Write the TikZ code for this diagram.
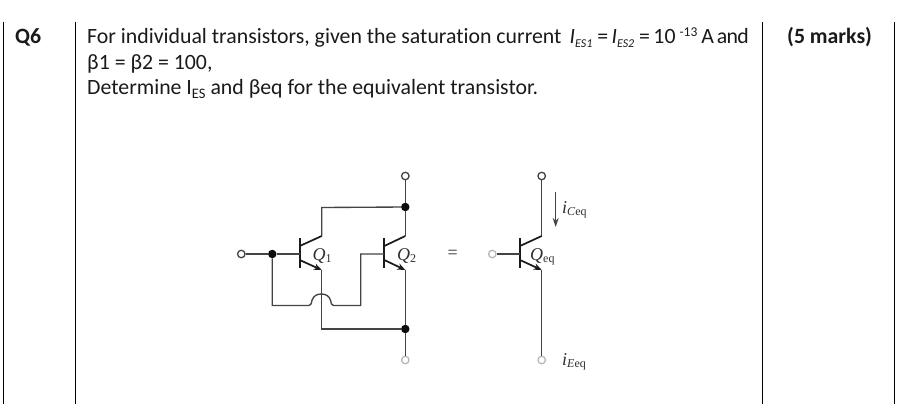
\documentclass[tikz,border=0pt]{standalone}
\usepackage{fontspec}
\setmainfont[Ligatures=NoCommon]{Carlito}
\newfontfamily\labf{Liberation Serif}
\usetikzlibrary{arrows.meta}
\definecolor{wirec}{HTML}{444444}
\definecolor{inkc}{HTML}{1A1A1A}
\tikzset{
  wire/.style={draw=wirec,line width=1.35pt},
  thickwire/.style={draw=inkc,line width=1.7pt},
  bar/.style={draw=inkc,line width=2.3pt},
  rule/.style={draw=black,line width=0.9pt},
  opencirc/.style={circle,draw=wirec,fill=white,line width=1.3pt,minimum size=7.5pt,inner sep=0pt},
  fadecirc/.style={circle,draw=wirec!40!white,fill=white,line width=1.2pt,minimum size=7.5pt,inner sep=0pt},
  dotc/.style={circle,fill=black!95!white,minimum size=8.5pt,inner sep=0pt},
  body/.style={anchor=base west,inner sep=0pt,text=inkc,font=\fontsize{21.8}{24}\selectfont},
  bodyb/.style={body,font=\fontsize{21.8}{24}\selectfont\bfseries},
  lab/.style={anchor=base west,inner sep=0pt,text=black!82!white,font=\labf\itshape\fontsize{18}{20}\selectfont},
  emit/.style={thickwire,-{Stealth[length=8pt,width=6.5pt]}},
}
\newcommand{\subsc}[1]{\raisebox{-0.32ex}{\fontsize{14.5}{16}\selectfont #1}}
\newcommand{\isub}[1]{\raisebox{-0.32ex}{\fontsize{12}{14}\selectfont\itshape #1}}
\newcommand{\lsub}[1]{\raisebox{-0.3ex}{\fontsize{12}{14}\selectfont #1}}
\begin{document}
\begin{tikzpicture}[x=1pt,y=-1pt]
\useasboundingbox[fill=white] (0,0) rectangle (911,404);
% table rules
\coordinate (r1t) at (3.7,22); \coordinate (r1b) at (3.7,404);
\coordinate (r2t) at (75.8,22); \coordinate (r2b) at (75.8,404);
\coordinate (r3t) at (762.5,22); \coordinate (r3b) at (762.5,404);
\coordinate (r4t) at (894.5,22); \coordinate (r4b) at (894.5,404);
\draw[rule] (r1t)--(r1b);
\draw[rule] (r2t)--(r2b);
\draw[rule] (r3t)--(r3b);
\draw[rule] (r4t)--(r4b);
% texts
\node[bodyb] (q6) at (15,44) {Q6};
\node[body] (l1) at (87,44) {For individual transistors, given the saturation current\hspace{8pt}\textit{I}\isub{ES1} = \hspace{-1.5pt}\textit{I}\isub{ES2} = \hspace{-1.5pt}10 \hspace{-1pt}\raisebox{0.75ex}{\fontsize{13.5}{14}\selectfont -13}\hspace{-1pt} A\hspace{-1pt} \hspace{-1pt}a\hspace{-0.7pt}n\hspace{-0.7pt}d};
\node[body] (l2) at (87,70) {β1 = β2 = 100,};
\node[body] (l3) at (87,95) {Determine I\subsc{ES} and βeq for the equivalent transistor.};
\node[bodyb] (marks) at (787,44) {(5 marks)};
% left circuit
\node[opencirc] (top) at (405.3,176) {};
\node[dotc] (jt) at (405.3,207) {};
\node[dotc] (jb) at (405.3,329) {};
\node[fadecirc] (bot) at (405.3,360) {};
\node[opencirc] (in) at (241.3,254) {};
\node[dotc] (jin) at (272.3,254) {};
\coordinate (b1) at (299.7,254);
\coordinate (c1top) at (321.7,207.5);
\coordinate (c1) at (321.7,236);
\coordinate (e1) at (321.7,270);
\coordinate (e1b) at (321.7,329);
\coordinate (c1s) at (299.7,246);
\coordinate (e1s) at (299.7,260);
\coordinate (b2) at (384.3,254);
\coordinate (c2) at (405.3,236);
\coordinate (e2) at (405.3,270);
\coordinate (c2s) at (384.3,246);
\coordinate (e2s) at (384.3,260);
\coordinate (b2c) at (360.7,254);
\coordinate (b2d) at (360.7,305.5);
\coordinate (hr) at (333.5,305.5);
\coordinate (hl) at (309,305.5);
\coordinate (hp) at (321.3,294);
\coordinate (jd) at (272.3,305.5);
% bars
\draw[bar] (299.7,238)--(299.7,268);
\draw[bar] (384.3,238)--(384.3,268);
\draw[wire] (jt)--(top);
\draw[wire] (jt)--(c2);
\draw[wire] (e2)--(jb);
\draw[wire] (jb)--(bot);
\draw[wire] (jt)--(c1top)--(c1);
\draw[wire] (e1)--(e1b)--(jb);
\draw[wire] (in)--(jin);
\draw[wire] (jin)--(b1);
\draw[thickwire] (c1s)--(c1);
\draw[emit] (e1s)--(e1);
\draw[thickwire] (c2s)--(c2);
\draw[emit] (e2s)--(e2);
\draw[wire] (b2)--(b2c)--(b2d)--(hr) .. controls (331,305.5) and (331.5,303) .. (330.5,300) .. controls (329,296) and (326,294) .. (hp) .. controls (316.6,294) and (313.6,296) .. (312.1,300) .. controls (311.1,303) and (311.5,305.5) .. (hl)--(jd)--(jin);
\node[lab] (q1) at (312.5,260) {Q\lsub{\textup{1}}};
\node[lab] (q2) at (397,260) {Q\lsub{\textup{2}}};
% equals
\node[lab,anchor=center,font=\labf\fontsize{18}{20}\selectfont] (eq) at (452.7,254) {=};
% right circuit
\node[opencirc] (top2) at (541.7,176) {};
\node[fadecirc] (bot2) at (541.7,360) {};
\node[fadecirc] (in2) at (492.3,254) {};
\coordinate (b3) at (520,254);
\coordinate (c3) at (541.7,236);
\coordinate (e3) at (541.7,270);
\coordinate (c3s) at (520,246);
\coordinate (e3s) at (520,260);
\draw[bar] (520,238)--(520,268);
\draw[wire] (top2)--(c3);
\draw[wire] (e3)--(bot2);
\draw[wire] (in2)--(b3);
\draw[thickwire] (c3s)--(c3);
\draw[emit] (e3s)--(e3);
\coordinate (ia) at (555.7,192);
\coordinate (ib) at (555.7,227);
\draw[wire,-{Stealth[length=9pt,width=6pt]}] (ia)--(ib);
\node[lab] (qeq) at (530,260) {Q\lsub{\textup{eq}}};
\node[lab] (ic) at (562,213) {i\lsub{C\textup{eq}}};
\node[lab] (ie) at (562,365.5) {i\lsub{E\textup{eq}}};
\end{tikzpicture}
\end{document}
